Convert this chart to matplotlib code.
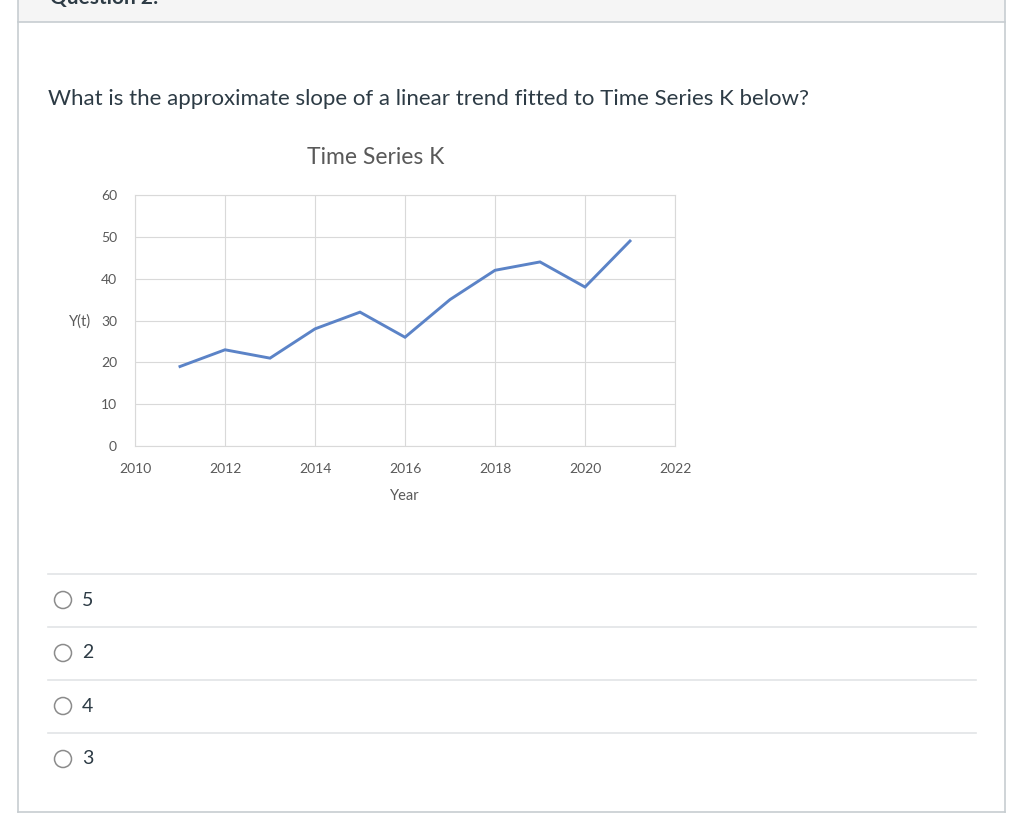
import matplotlib
matplotlib.use('Agg')
from matplotlib import pyplot as plt
from matplotlib.patches import Circle, Rectangle

plt.rcParams['font.family'] = ['Lato', 'DejaVu Sans']

# data
years = [2011, 2012, 2013, 2014, 2015, 2016, 2017, 2018, 2019, 2020, 2021]
values = [19, 23, 21, 28, 32, 26, 35, 42, 44, 38, 49]
x_ticks = [2010, 2012, 2014, 2016, 2018, 2020, 2022]
y_ticks = [0, 10, 20, 30, 40, 50, 60]
question = 'What is the approximate slope of a linear trend fitted to Time Series K below?'
options = ['5', '2', '4', '3']

W, H = 1024, 831
fig = plt.figure(figsize=(W / 100, H / 100), dpi=100)
fig.patch.set_facecolor('white')

# page background in pixel coordinates
bg = fig.add_axes([0, 0, 1, 1])
bg.set_xlim(0, W)
bg.set_ylim(H, 0)
bg.axis('off')

# card with gray header strip
bg.add_patch(Rectangle((18, -5), 987, 27, facecolor='#f5f5f5', edgecolor='none'))
bg.plot([18, 1005], [22, 22], color='#c7cdd1', lw=1.2)
bg.plot([18, 18], [0, 812], color='#c7cdd1', lw=1.2)
bg.plot([1005, 1005], [0, 812], color='#c7cdd1', lw=1.2)
bg.plot([18, 1005], [812, 812], color='#c7cdd1', lw=1.2)
bg.text(50, 4, 'Question 2:', fontsize=15, fontweight='bold', color='#2d3b45',
        ha='left', va='baseline', clip_on=True)

bg.text(48, 99, question, fontsize=16, color='#2d3b45', ha='left', va='center')

sep_y = [574, 627, 680, 733]
opt_y = [600, 653, 706, 759]
for sy in sep_y:
    bg.plot([48, 976], [sy, sy], color='#e2e4e6', lw=1.2)
for oy, lab in zip(opt_y, options):
    bg.add_patch(Circle((63, oy), 8.5, facecolor='white', edgecolor='#8b8b8b', lw=1.1))
    bg.text(82, oy, lab, fontsize=14, color='#2d3b45', ha='left', va='center')

# chart
ax = fig.add_axes([135 / W, 1 - 446 / H, 540 / W, 251 / H])
ax.plot(years, values, color='#5b83c7', lw=2.1, solid_joinstyle='miter')
ax.set_xlim(2010, 2022)
ax.set_ylim(0, 60)
ax.set_xticks(x_ticks)
ax.set_yticks(y_ticks)
ax.grid(True, color='#d9d9d9', lw=0.8)
ax.set_axisbelow(True)
for s in ax.spines.values():
    s.set_color('#d9d9d9')
    s.set_linewidth(0.8)
ax.tick_params(length=0, labelsize=10, colors='#595959')
ax.tick_params(axis='y', pad=13)
ax.tick_params(axis='x', pad=12)

bg.text(376, 158, 'Time Series K', fontsize=16.5, color='#595959', ha='center', va='center')
bg.text(80, 322, 'Y(t)', fontsize=10.5, color='#595959', ha='center', va='center')
bg.text(405, 496, 'Year', fontsize=10.5, color='#595959', ha='center', va='center')

fig.savefig('out.png', dpi=100)
